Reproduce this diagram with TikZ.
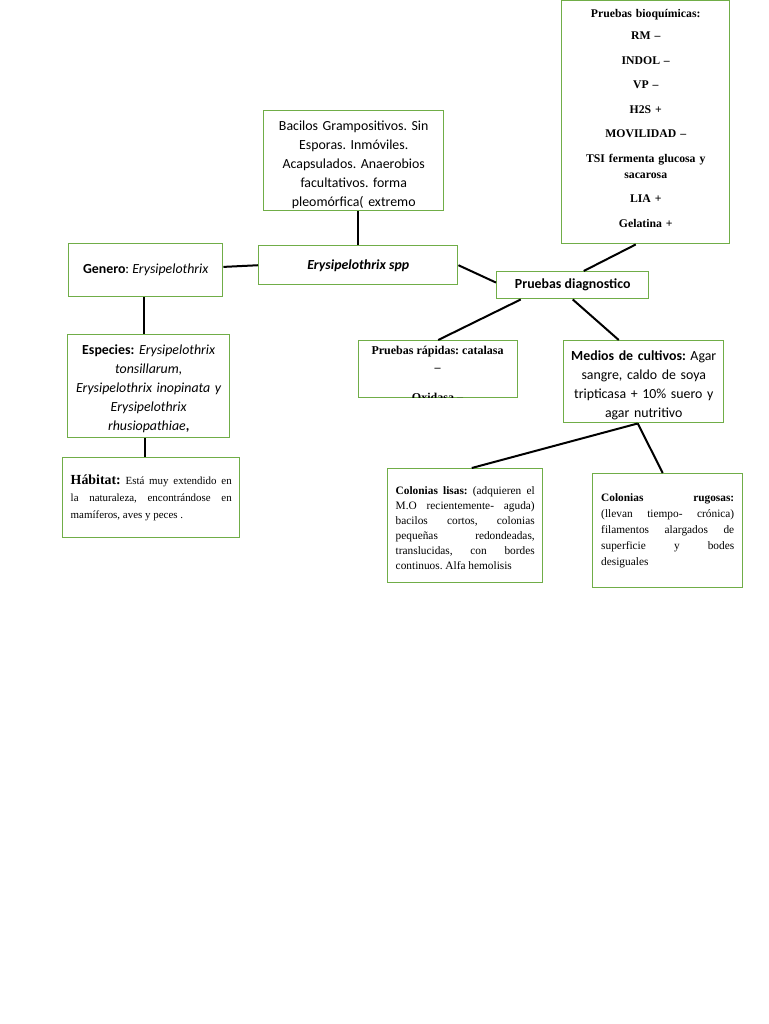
\documentclass[tikz,border=0pt]{standalone}
\usepackage{fontspec}
\setmainfont{Liberation Serif}
\newfontfamily\calfont{Carlito}
\usetikzlibrary{calc}
\definecolor{boxgreen}{HTML}{70AD47}
\frenchspacing
\tikzset{
  box/.style={draw=boxgreen, line width=1.1pt, fill=white, inner sep=2pt, anchor=north west},
  cal/.style={font=\calfont\fontsize{10.4}{14.25}\selectfont, align=center},
  link/.style={line width=1.5pt, black},
}
\begin{document}
\frenchspacing
\begin{tikzpicture}[x=0.75pt,y=-0.75pt]
\useasboundingbox (0,0) rectangle (768,1024);
\fill[white] (0,0) rectangle (768,1024);

% boxes
\node[box, minimum width=126pt, minimum height=182.25pt, align=center, text width=120pt,
      font=\bfseries\fontsize{8.8}{12}\selectfont] (bio) at (561,0)
  {Pruebas bioquímicas:\\[4.3pt] RM –\\[6.4pt] INDOL –\\[6.4pt] VP –\\[6.4pt] H2S +\\[6.4pt] MOVILIDAD –\\[6.4pt] TSI fermenta glucosa y\\ sacarosa\\[6.4pt] LIA +\\[6.4pt] Gelatina +\rule[-5.5pt]{0pt}{0pt}};

\node[box, cal, minimum width=135pt, minimum height=75pt, text width=130pt, inner sep=1pt] (bac) at (263,110)
  {\rule{0pt}{14pt}Bacilos Grampositivos. Sin\\ Esporas. Inmóviles.\\ Acapsulados. Anaerobios\\ facultativos. forma\\ pleomórfica( extremo};

\node[box, cal, minimum width=149.25pt, minimum height=29.25pt] (spp) at (258,245)
  {\bfseries\itshape Erysipelothrix spp};

\node[box, cal, minimum width=115.5pt, minimum height=39.75pt] (gen) at (68,243)
  {\textbf{Genero}: \textit{Erysipelothrix}};

\node[box, cal, minimum width=121.5pt, minimum height=77.25pt, text width=116pt] (esp) at (67,334)
  {\rule{0pt}{11pt}\textbf{Especies:} \textit{Erysipelothrix}\\ \textit{tonsillarum,}\\ \textit{Erysipelothrix inopinata y}\\ \textit{Erysipelothrix}\\ \textit{rhusiopathiae}\textbf{,}};

\node[box, minimum width=132.75pt, minimum height=60pt, text width=120.75pt, inner xsep=6pt,
      align=justify, font=\fontsize{8.2}{12.75}\selectfont] (hab) at (62,457)
  {{\bfseries\fontsize{10.4}{12.75}\selectfont Hábitat:} Está muy extendido en\linebreak la naturaleza, encontrándose en\linebreak mamíferos, aves y peces .};

\node[box, cal, minimum width=114pt, minimum height=20.25pt] (diag) at (496,271)
  {\bfseries Pruebas diagnostico};

\node[box, minimum width=119.25pt, minimum height=42.75pt] (rap) at (358,340) {};
\begin{scope}
  \clip ($(rap.south west)+(0.6pt,0.6pt)$) rectangle ($(rap.north east)+(-0.6pt,-0.6pt)$);
  \node[anchor=north, align=center, inner sep=0pt, font=\bfseries\fontsize{9}{12.75}\selectfont] (raptext) at (437.5,346)
    {Pruebas rápidas: catalasa\\ –\\[9.5pt] Oxidasa –};
\end{scope}

\node[box, cal, minimum width=120pt, minimum height=61.5pt, text width=116pt] (med) at (563,340)
  {\rule{0pt}{12.5pt}\textbf{Medios de cultivos:} Agar\\ sangre, caldo de soya\\ tripticasa + 10\% suero y\\ agar nutritivo};

\node[box, minimum width=116.25pt, minimum height=85.5pt, text width=104.25pt, inner xsep=6pt,
      align=justify, font=\fontsize{8.5}{11.25}\selectfont] (lis) at (387,468)
  {\rule{0pt}{9pt}\textbf{Colonias lisas:} (adquieren el\linebreak M.O recientemente- aguda)\linebreak bacilos cortos, colonias\linebreak pequeñas redondeadas,\linebreak translucidas, con bordes\linebreak continuos. Alfa hemolisis};

\node[box, minimum width=112.5pt, minimum height=85.5pt, text width=99.75pt, inner xsep=6pt,
      align=justify, font=\fontsize{8.5}{12}\selectfont] (rug) at (592,473)
  {\textbf{Colonias rugosas:}\linebreak (llevan tiempo- crónica)\linebreak filamentos alargados de\linebreak superficie y bodes\linebreak desiguales};

% connectors
\draw[link] (spp.north) -- (spp.north |- bac.south);
\draw[link] ([yshift=2.5pt]gen.east) -- (spp.west);
\draw[link] ([xshift=-1.5pt]gen.south) -- ([xshift=-1.5pt]gen.south |- esp.north);
\draw[link] ([xshift=-3pt]esp.south) -- ([xshift=-3pt]esp.south |- hab.north);
\draw[link] (spp.east) -- ([yshift=2pt]diag.west);
\draw[link] ([xshift=-7.5pt]bio.south) -- ([xshift=8.25pt]diag.north);
\draw[link] ([xshift=-39pt]diag.south) -- (rap.north);
\draw[link] (diag.south) -- ([xshift=-18.75pt]med.north);
\draw[link] ([xshift=-4.5pt]med.south) -- ([xshift=4.9pt]lis.north);
\draw[link] ([xshift=-4.5pt]med.south) -- ([xshift=-3.75pt]rug.north);
\end{tikzpicture}
\end{document}
